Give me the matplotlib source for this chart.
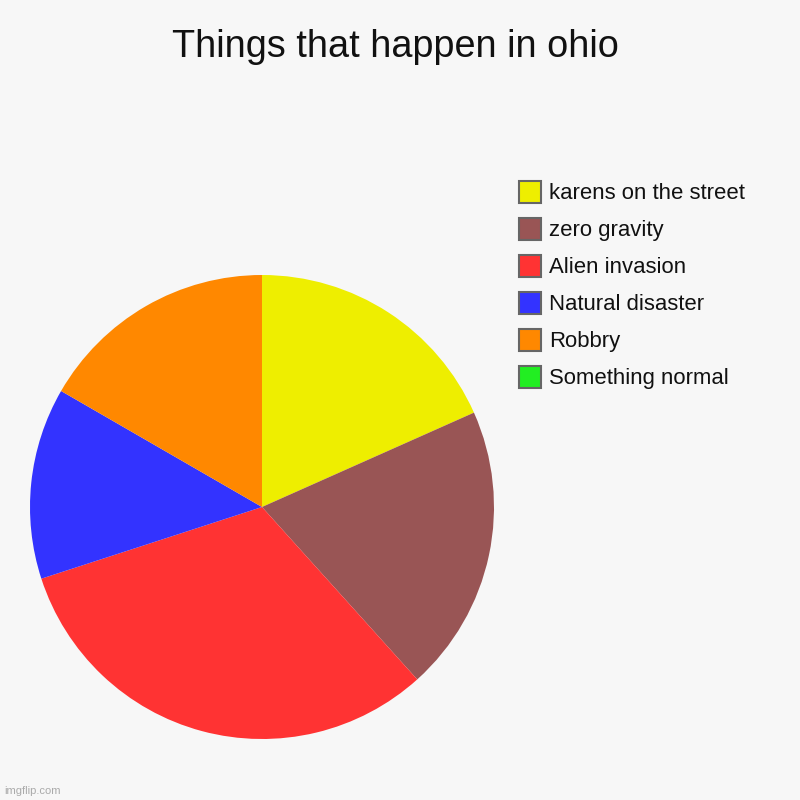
import matplotlib
matplotlib.use("Agg")
import matplotlib.pyplot as plt
from matplotlib.patches import Rectangle

plt.rcParams["font.family"] = ["Liberation Sans", "DejaVu Sans"]

labels = ["karens on the street", "zero gravity", "Alien invasion",
          "Natural disaster", "Robbry", "Something normal"]
values = [11, 12, 19, 8, 10, 0]
colors = ["#eeee00", "#995555", "#ff3333", "#3333ff", "#ff8800", "#22ee22"]

BG = "#f7f7f7"
fig = plt.figure(figsize=(8, 8), dpi=100, facecolor=BG)

# pie: centre ~ (262, 507) px, radius ~232 px
cx, cy, r = 262 / 800, 1 - 507 / 800, 232 / 800
ax = fig.add_axes([cx - r, cy - r, 2 * r, 2 * r])
ax.set_facecolor(BG)
ax.pie(values, colors=colors, startangle=90, counterclock=False, radius=1,
       wedgeprops=dict(linewidth=0))
ax.set_xlim(-1, 1)
ax.set_ylim(-1, 1)
ax.set_aspect("equal")
ax.axis("off")

fig.text(395 / 800, 1 - 47 / 800, "Things that happen in ohio",
         ha="center", va="center", fontsize=27.3, color="#111111")

# legend, drawn by hand to match spacing
for i, (lab, col) in enumerate(zip(labels, colors)):
    yc = 192 + 37 * i
    fig.patches.append(Rectangle((519 / 800, 1 - (yc + 11) / 800), 22 / 800, 22 / 800,
                                 transform=fig.transFigure, facecolor=col,
                                 edgecolor="#666666", linewidth=1.5))
    fig.text(549 / 800, 1 - (yc + 1.5) / 800, lab, ha="left", va="center",
             fontsize=15.9, color="#111111")

fig.text(4 / 800, 1 - 791 / 800, "imgflip.com", ha="left", va="center",
         fontsize=8, color="#aaaaaa")

fig.savefig("out.png", dpi=100, facecolor=BG)
